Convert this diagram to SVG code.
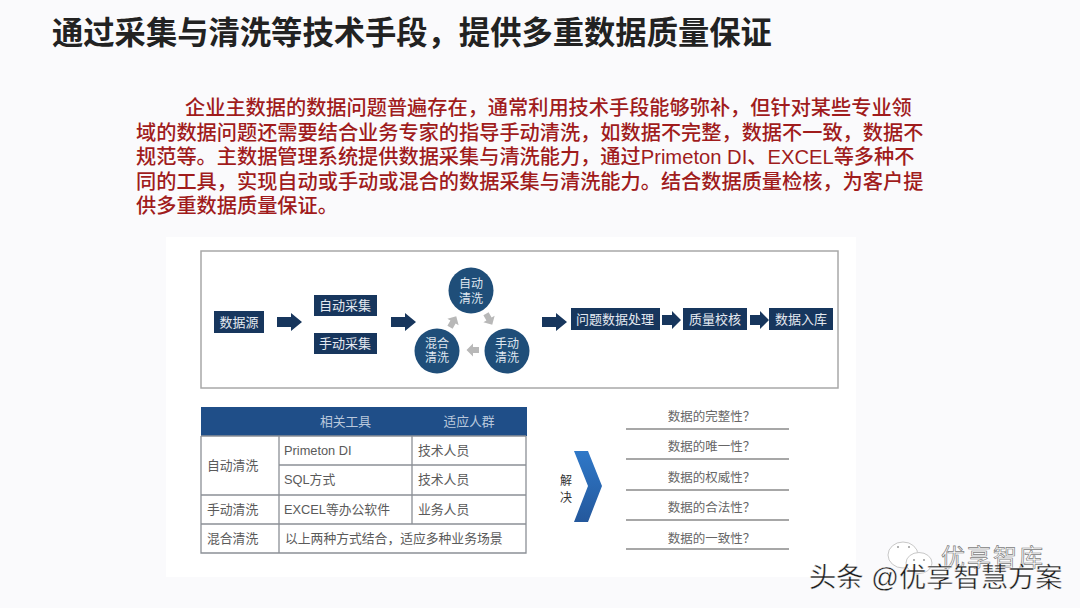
<svg xmlns="http://www.w3.org/2000/svg" width="1080" height="608" viewBox="0 0 1080 608">
<defs>
<linearGradient id="chev" x1="0" y1="0" x2="0" y2="1"><stop offset="0" stop-color="#2f78c8"/><stop offset="1" stop-color="#24589c"/></linearGradient>
<g id="arr"><path d="M0 -5H14V-9L25 0L14 9V5H0Z" fill="#17365d"/></g>
<g id="arrs"><path d="M0 -5H10V-9L19 0L10 9V5H0Z" fill="#17365d"/></g>
<g id="garr"><path d="M-6 -3H0V-6.500L6.500 0L0 6.500V3H-6Z" fill="#b8b8b8"/></g>
</defs>
<style>
text{font-family:"Liberation Sans","Noto Sans CJK SC",sans-serif}
.box{fill:#17365d}
.bt{fill:#e4e9f0;font-size:13px;text-anchor:middle}
.ct{fill:#dfe6ef;font-size:12px;text-anchor:middle}
.red{fill:#a01c1c;font-size:20.200px;font-weight:500}
.tl{stroke:#8c9096;stroke-width:1.300;fill:none}
.tt{fill:#5a5a5a;font-size:12.800px}
.th{fill:#b9c8dc;font-size:12.800px;text-anchor:middle}
.q{fill:#666;font-size:12.500px;text-anchor:middle}
.ql{stroke:#8a8a8a;stroke-width:1.300}
</style>
<rect width="1080" height="608" fill="#fafafc"/>
<rect x="166" y="237" width="690" height="340" fill="#ffffff"/>
<text id="title" x="52" y="44" font-size="31.300" font-weight="700" fill="#222222">通过采集与清洗等技术手段，提供多重数据质量保证</text>
<g id="paragraph">
<text class="red" x="185" y="115">企业主数据的数据问题普遍存在，通常利用技术手段能够弥补，但针对某些专业领</text>
<text class="red" x="136" y="140">域的数据问题还需要结合业务专家的指导手动清洗，如数据不完整，数据不一致，数据不</text>
<text class="red" x="136" y="164">规范等。主数据管理系统提供数据采集与清洗能力，通过Primeton DI、EXCEL等多种不</text>
<text class="red" x="136" y="189">同的工具，实现自动或手动或混合的数据采集与清洗能力。结合数据质量检核，为客户提</text>
<text class="red" x="136" y="213">供多重数据质量保证。</text>
</g>
<rect id="flow-frame" x="201" y="251" width="637" height="137" fill="#ffffff" stroke="#a8a8a8" stroke-width="1.500"/>
<g id="connectors">
<use href="#arr" x="277" y="322"/>
<use href="#arr" x="391" y="322"/>
<use href="#arr" x="542" y="322"/>
<use href="#arrs" x="662" y="320"/>
<use href="#arrs" x="750" y="320"/>
<use href="#garr" transform="translate(453 322) rotate(-60)"/>
<use href="#garr" transform="translate(489 319) rotate(60)"/>
<use href="#garr" transform="translate(473 350) rotate(180)"/>
</g>
<g id="n-source"><rect class="box" x="214" y="311" width="50" height="22"/><text class="bt" x="239" y="327">数据源</text></g>
<g id="n-auto"><rect class="box" x="314" y="295" width="63" height="21"/><text class="bt" x="345" y="310">自动采集</text></g>
<g id="n-manual"><rect class="box" x="314" y="333" width="63" height="21"/><text class="bt" x="345" y="348">手动采集</text></g>
<g id="n-c-auto"><ellipse cx="471" cy="290.500" rx="22.500" ry="23" fill="#1f4e79"/><text class="ct" x="471" y="288">自动</text><text class="ct" x="471" y="303">清洗</text></g>
<g id="n-c-mixed"><circle cx="437" cy="351" r="22.500" fill="#1f4e79"/><text class="ct" x="437" y="348">混合</text><text class="ct" x="437" y="362">清洗</text></g>
<g id="n-c-manual"><circle cx="507" cy="351" r="22.500" fill="#1f4e79"/><text class="ct" x="507" y="348">手动</text><text class="ct" x="507" y="362">清洗</text></g>
<g id="n-problem"><rect class="box" x="571" y="308" width="89" height="22"/><text class="bt" x="615" y="324">问题数据处理</text></g>
<g id="n-quality"><rect class="box" x="683" y="308" width="64" height="22"/><text class="bt" x="715" y="324">质量校核</text></g>
<g id="n-store"><rect class="box" x="769" y="308" width="64" height="22"/><text class="bt" x="801" y="324">数据入库</text></g>
<g id="table">
<rect x="201" y="407" width="326" height="29" fill="#1f4e88"/>
<path class="tl" d="M201 436V553H526V436M201 436H526M279 436V553M412 436V524M279 465H526M201 495H526M201 524H526"/>
<text class="th" x="345.500" y="426">相关工具</text><text class="th" x="469" y="426">适应人群</text>
<text class="tt" x="207" y="470">自动清洗</text><text class="tt" x="207" y="514">手动清洗</text><text class="tt" x="207" y="543">混合清洗</text>
<text class="tt" x="284" y="455">Primeton DI</text><text class="tt" x="284" y="484">SQL方式</text><text class="tt" x="284" y="514">EXCEL等办公软件</text>
<text class="tt" x="418" y="455">技术人员</text><text class="tt" x="418" y="484">技术人员</text><text class="tt" x="418" y="514">业务人员</text>
<text class="tt" x="285" y="543">以上两种方式结合，适应多种业务场景</text>
</g>
<g id="solve"><text x="566" y="485" font-size="12" fill="#333" text-anchor="middle">解</text><text x="566" y="502" font-size="12" fill="#333" text-anchor="middle">决</text>
<path d="M574 451H588L602 486L588 522H574L588 486Z" fill="url(#chev)"/></g>
<g id="questions">
<text class="q" x="711.500" y="421">数据的完整性？</text><line class="ql" x1="626" y1="429" x2="789" y2="429"/>
<text class="q" x="711.500" y="451">数据的唯一性？</text><line class="ql" x1="626" y1="459" x2="789" y2="459"/>
<text class="q" x="711.500" y="482">数据的权威性？</text><line class="ql" x1="626" y1="490" x2="789" y2="490"/>
<text class="q" x="711.500" y="512">数据的合法性？</text><line class="ql" x1="626" y1="520" x2="789" y2="520"/>
<text class="q" x="711.500" y="543">数据的一致性？</text><line class="ql" x1="626" y1="549" x2="789" y2="549"/>
</g>
<g id="watermark">
<ellipse cx="903" cy="555" rx="15" ry="13" fill="#ffffff" stroke="#c8c8c8"/>
<ellipse cx="919" cy="563" rx="13" ry="10.500" fill="#ffffff" stroke="#c8c8c8"/>
<circle cx="898" cy="547" r="1" fill="#999"/><circle cx="909" cy="547" r="1" fill="#999"/><circle cx="914" cy="560" r="1" fill="#999"/><circle cx="924" cy="560" r="1" fill="#999"/>
<text x="941" y="566" font-size="24" letter-spacing="2" fill="#ffffff" stroke="#808080" stroke-width="0.700">优享智库</text>
<text x="809" y="587" font-size="27.300" fill="#1c1c1c" stroke="#ffffff" stroke-width="0.400">头条 @优享智慧方案</text>
</g>
</svg>
